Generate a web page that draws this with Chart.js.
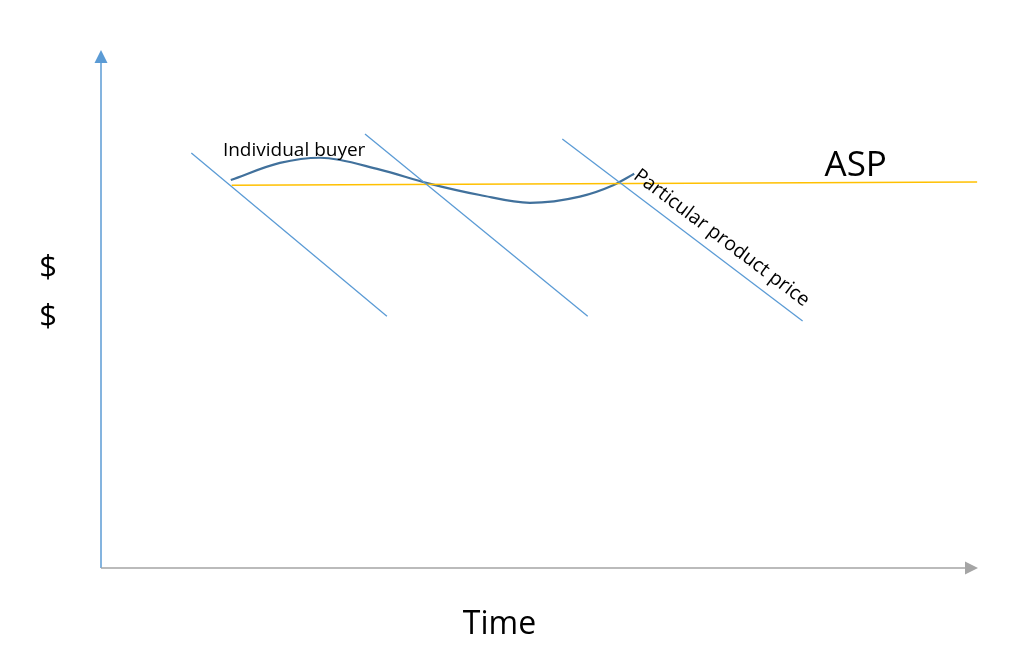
<!DOCTYPE html>
<html>
<head>
<meta charset="utf-8">
<script src="https://cdn.jsdelivr.net/npm/chart.js@4.4.0/dist/chart.umd.min.js"></script>
<style>
  html, body { margin: 0; padding: 0; background: #fff; }
  #wrap { width: 1024px; height: 661px; }
</style>
</head>
<body>
<div id="wrap"><canvas id="priceChart"></canvas></div>
<script>
// time runs 0..100 along the x axis, price 0..100 up the y axis
const timeRange = [0, 100];
const priceRange = [0, 100];

// three particular product prices, each falling over time
const productA = [{ x: 10.3, y: 80.1 }, { x: 32.6, y: 48.6 }];
const productB = [{ x: 30.1, y: 83.8 }, { x: 55.5, y: 48.6 }];
const productC = [{ x: 52.6, y: 82.8 }, { x: 80.0, y: 47.7 }];

// average selling price, nearly flat
const aspLine = [{ x: 14.9, y: 73.9 }, { x: 99.9, y: 74.5 }];

// what an individual buyer pays
const buyerTime = [14.8, 20.4, 25.0, 31.8, 37.2, 43.2, 48.9, 54.6, 58.4, 60.8];
const buyerPrice = [74.9, 78.2, 79.2, 76.9, 74.3, 72.0, 70.5, 71.7, 73.9, 76.1];

const buyerLine = buyerTime.map((t, i) => ({ x: t, y: buyerPrice[i] }));

const font = "'Open Sans', 'Noto Sans', sans-serif";

const axesAndLabels = {
  id: "axesAndLabels",
  beforeDatasetsDraw(chart) {
    const { ctx, chartArea } = chart;
    const { left, right, top, bottom } = chartArea;
    ctx.save();

    // y axis with arrow
    ctx.strokeStyle = "#5b9bd5";
    ctx.fillStyle = "#5b9bd5";
    ctx.lineWidth = 1.5;
    ctx.beginPath();
    ctx.moveTo(left, bottom);
    ctx.lineTo(left, top + 10);
    ctx.stroke();
    ctx.beginPath();
    ctx.moveTo(left, top);
    ctx.lineTo(left - 6.5, top + 13);
    ctx.lineTo(left + 6.5, top + 13);
    ctx.closePath();
    ctx.fill();

    // x axis with arrow
    ctx.strokeStyle = "#a5a5a5";
    ctx.fillStyle = "#a5a5a5";
    ctx.beginPath();
    ctx.moveTo(left, bottom);
    ctx.lineTo(right - 10, bottom);
    ctx.stroke();
    ctx.beginPath();
    ctx.moveTo(right, bottom);
    ctx.lineTo(right - 13, bottom - 6.5);
    ctx.lineTo(right - 13, bottom + 6.5);
    ctx.closePath();
    ctx.fill();
    ctx.restore();
  },
  afterDatasetsDraw(chart) {
    const { ctx, scales } = chart;
    const x = scales.x, y = scales.y;
    ctx.save();
    ctx.fillStyle = "#000";

    ctx.textAlign = "center";
    ctx.textBaseline = "middle";
    ctx.font = "31px " + font;
    ctx.fillText("$", 48, 268);
    ctx.fillText("$", 48, 317);

    ctx.font = "32px " + font;
    ctx.fillText("Time", (x.left + x.right) / 2 - 40, 625);

    ctx.textAlign = "left";
    ctx.textBaseline = "alphabetic";
    ctx.font = "35px " + font;
    ctx.fillText("ASP", x.getPixelForValue(82.5), y.getPixelForValue(75.7));

    ctx.font = "19px " + font;
    ctx.fillText("Individual buyer", x.getPixelForValue(13.9), y.getPixelForValue(79.5));

    ctx.font = "19.5px " + font;
    ctx.translate(x.getPixelForValue(60.6), y.getPixelForValue(75.3));
    ctx.rotate(37 * Math.PI / 180);
    ctx.fillText("Particular product price", 0, 0);
    ctx.restore();
  }
};

function lineSet(data, color, width, smooth) {
  return {
    data: data,
    showLine: true,
    borderColor: color,
    borderWidth: width,
    pointRadius: 0,
    cubicInterpolationMode: smooth ? "monotone" : "default",
    tension: 0,
    fill: false
  };
}

new Chart(document.getElementById("priceChart"), {
  type: "scatter",
  data: {
    datasets: [
      lineSet(productA, "#5b9bd5", 1.3, false),
      lineSet(productB, "#5b9bd5", 1.3, false),
      lineSet(productC, "#5b9bd5", 1.3, false),
      lineSet(aspLine, "#ffc000", 1.5, false),
      lineSet(buyerLine, "#41719c", 2.2, true)
    ]
  },
  options: {
    responsive: true,
    maintainAspectRatio: false,
    animation: false,
    layout: { padding: { left: 101, right: 46, top: 50, bottom: 93 } },
    plugins: {
      legend: { display: false },
      tooltip: { enabled: false }
    },
    scales: {
      x: { type: "linear", min: timeRange[0], max: timeRange[1], display: false },
      y: { type: "linear", min: priceRange[0], max: priceRange[1], display: false }
    }
  },
  plugins: [axesAndLabels]
});
</script>
</body>
</html>
